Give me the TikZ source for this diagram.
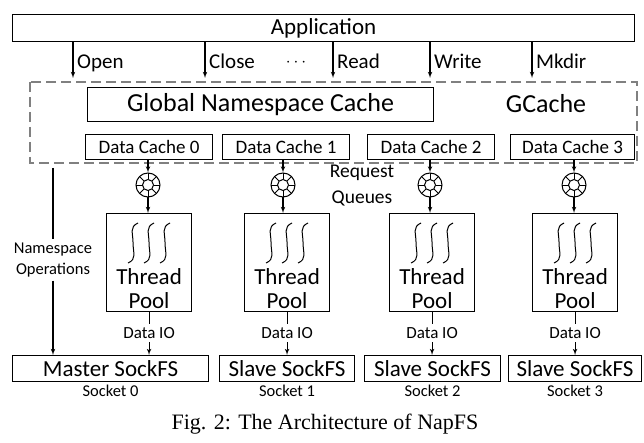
\documentclass[tikz,border=0pt]{standalone}
\usepackage{fontspec}
\setmainfont{Carlito}
\newfontfamily\capfont{Liberation Serif}
\usetikzlibrary{calc,arrows,positioning}
\tikzset{
  box/.style={draw,line width=1.1pt,inner sep=0pt,anchor=north west},
  arr/.style={-latex',line width=1.1pt},
  lbl/.style={inner sep=1pt},
}
\newcommand{\queue}[3]{% name, x, y
  \node[circle,draw,line width=1pt,minimum size=24pt,inner sep=0pt] (#1) at (#2,#3) {};
  \draw[line width=1pt] (#2,#3) circle (5.5pt);
  \foreach \a in {0,45,...,315} \draw[line width=0.8pt] ($(#2,#3)+(\a:5.5pt)$) -- ($(#2,#3)+(\a:12pt)$);
}
\begin{document}
\begin{tikzpicture}[x=1pt,y=-1pt]
\useasboundingbox (0,0) rectangle (644,443);
% application
\node[box,minimum width=622pt,minimum height=27pt,font=\fontsize{23}{25}\selectfont] (app) at (12,14) {Application};
\draw[dash pattern=on 10pt off 5pt,line width=1.4pt,gray] (30,82) rectangle (637,163);
\foreach \x/\t in {73/Open,205/Close,333/Read,430/Write,532/Mkdir}{
  \coordinate (c\t) at (\x,78);
  \draw[arr] (app.south -| c\t) -- (c\t);
  \node[lbl,anchor=base west,font=\fontsize{21}{23}\selectfont] (l\t) at (\x+3,69) {\t};
}
\node[anchor=base,font=\fontsize{18}{20}\selectfont] (dots) at (296,67) {$\cdots$};
% GCache
\node[box,minimum width=346pt,minimum height=34pt,font=\fontsize{26}{28}\selectfont] (gns) at (87,87) {Global Namespace Cache};
\node[font=\fontsize{26}{28}\selectfont] (gc) at (546,104) {GCache};
% columns
\foreach \i/\dl/\dw/\qx/\px/\skl/\skw/\skt in {0/85/127/148/106/12/196/Master,1/222/127/283/244/219/135/Slave,2/367/127/430/389/364/136/Slave,3/510/124/574/532/508/133/Slave}{
  \node[box,minimum width=\dw pt,minimum height=25pt,font=\fontsize{19}{20}\selectfont] (dc\i) at (\dl,134) {Data Cache \i};
  \queue{q\i}{\qx}{185}
  \draw[arr] (dc\i.south -| q\i) -- (q\i.north);
  \node[box,minimum width=85pt,minimum height=98pt] (tp\i) at (\px,213) {};
  \draw[arr] (q\i.south) -- (tp\i.north -| q\i);
  \foreach \dx in {-16,0,16}
    \draw[line width=1pt] ($(tp\i.north)+(\dx+5,10)$) .. controls +(-9,4) and +(0,-10) .. ($(tp\i.north)+(\dx,30)$) .. controls +(0,10) and +(9,-4) .. ($(tp\i.north)+(\dx-5,50)$);
  \node[font=\fontsize{23}{25}\selectfont,align=center] (tt\i) at ($(tp\i.north)+(0,76)$) {Thread\\[-1pt]Pool};
  \node[box,minimum width=\skw pt,minimum height=26pt,font=\fontsize{23}{25}\selectfont] (sk\i) at (\skl,355) {\skt\ SockFS};
  \node[font=\fontsize{17}{19}\selectfont] (io\i) at ($(tp\i.south)+(0,21)$) {Data IO};
  \draw[line width=1.1pt] (tp\i.south) -- (io\i.north);
  \draw[arr] (io\i.south) -- (sk\i.north -| io\i);
  \node[font=\fontsize{16.5}{18}\selectfont] (so\i) at ($(sk\i.south)+(0,9)$) {Socket \i};
}
% namespace ops
\node[font=\fontsize{16.5}{21}\selectfont,align=center] (nso) at (53,260) {Namespace\\Operations};
\coordinate (nstop) at (53,168);
\draw[line width=1.1pt] (nstop) -- (nso.north);
\draw[arr] (nso.south) -- (sk0.north -| nso);
\node[font=\fontsize{19.5}{26}\selectfont,align=center] (rq) at (362,186) {Request\\Queues};
% caption
\node[font=\capfont\fontsize{22}{24}\selectfont] (cap) at (325,424) {Fig. 2: The Architecture of NapFS};
\end{tikzpicture}
\end{document}
